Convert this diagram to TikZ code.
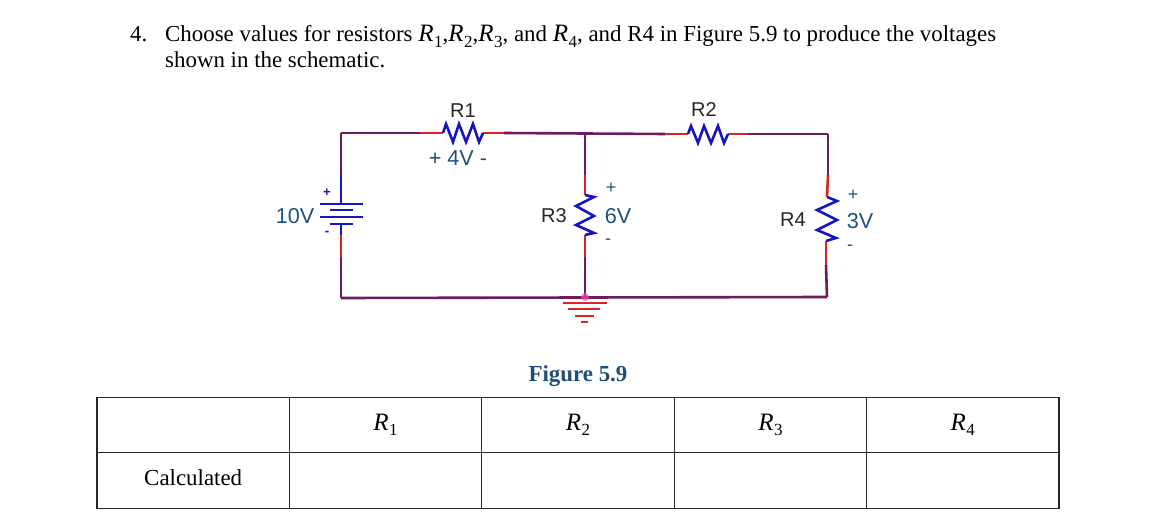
\documentclass[tikz,border=0pt]{standalone}
\usepackage{amsmath}
\usepackage[no-math]{fontspec}
\setmainfont{Liberation Serif}
\setsansfont{Liberation Sans}
\usetikzlibrary{positioning}
\definecolor{wirepurple}{HTML}{6B1C5C}
\definecolor{stubred}{HTML}{DC2326}
\definecolor{partblue}{HTML}{1515C4}
\definecolor{valueblue}{HTML}{1F5080}
\definecolor{captionblue}{HTML}{1F4E79}
\newcommand{\qbody}{\fontsize{22.9}{26}\selectfont}
\newcommand{\qsans}{\sffamily\fontsize{20}{22}\selectfont}
\newcommand{\qvalue}{\sffamily\fontsize{21.6}{24}\selectfont}
\newcommand{\qR}[1]{{\fontsize{25}{26}\selectfont\textit{R}}\kern.5pt\raisebox{-.22em}{\fontsize{17}{17}\selectfont #1}}

\begin{document}
\begin{tikzpicture}[x=1pt,y=-1pt,line join=miter]
  \tikzstyle{wire}=[draw=wirepurple,line width=2.6pt]
  \tikzstyle{stub}=[draw=stubred,line width=2.6pt]
  \tikzstyle{part}=[draw=partblue,line width=2.6pt]
  \tikzstyle{earth}=[draw=stubred,line width=2.6pt]
  \tikzstyle{qtext}=[inner sep=0pt,anchor=base west,font=\qbody]
  \tikzstyle{partname}=[inner sep=0pt,text=black!85,font=\qsans]
  \tikzstyle{partvalue}=[inner sep=0pt,text=valueblue,font=\qvalue]
  \tikzstyle{plusminus}=[inner sep=0pt,text=valueblue,font=\sffamily\fontsize{18}{20}\selectfont]
  \tikzstyle{polarity}=[inner sep=0pt,text=partblue,font=\sffamily\bfseries\fontsize{13}{14}\selectfont]
  \tikzstyle{cell}=[rectangle,draw=black!85,line width=1.2pt,inner sep=0pt,outer sep=0pt,
                    minimum width=192.4pt,minimum height=55.6pt,font=\qbody]

  \useasboundingbox (0,0) rectangle (1162,521);

  % Question text.
  \node [qtext] (qnum) at (130,42) {4.};
  \node [qtext] (qline1) at (165,42)
    {Choose values for resistors \qR{1},\qR{2},\qR{3}, and \qR{4}, and R4 in Figure 5.9 to produce the voltages};
  \node [qtext] (qline2) at (165,68) {shown in the schematic.};

  % Corners and junctions.
  \coordinate (tl) at (341,133);
  \coordinate (tr) at (828,134);
  \coordinate (bl) at (341,298);
  \coordinate (br) at (827,297);
  \coordinate (top3) at (585,133);
  \coordinate (gnd) at (585,297);

  % Top branch.
  \coordinate (r1a) at (443,133);
  \coordinate (r1b) at (483,133);
  \coordinate (r2a) at (688,134);
  \coordinate (r2b) at (728,134);
  \draw [wire] (tl) -- (420,133);
  \draw [stub] (420,133) -- (r1a);
  \draw [stub] (r1b) -- (504,133);
  \draw [wire] (504,133) -- (665,134);
  \draw [stub] (665,134) -- (r2a);
  \draw [stub] (r2b) -- (748,134);
  \draw [wire] (748,134) -- (tr);
  \draw [part] (r1a) -- ++(3,-9) -- ++(7,18) -- ++(6,-18) -- ++(7,18) -- ++(7,-18) -- ++(6,18) -- (r1b);
  \draw [part] (r2a) -- ++(3,-8) -- ++(7,17) -- ++(6,-17) -- ++(7,17) -- ++(7,-17) -- ++(6,17) -- (r2b);

  % Battery branch.
  \coordinate (batp) at (341,204);
  \coordinate (batm) at (341,224);
  \draw [wire] (tl) -- (341,175);
  \draw [part] (341,175) -- (batp);
  \draw [part] (batm) -- (341,235);
  \draw [stub] (341,235) -- (341,257);
  \draw [wire] (341,257) -- (bl);
  \draw [part] (320,204) -- (363,204);
  \draw [part] (330,210) -- (353,210);
  \draw [part] (320,217) -- (363,217);
  \draw [part] (330,224) -- (353,224);

  % R3 branch.
  \coordinate (r3a) at (585,195);
  \coordinate (r3b) at (585,235);
  \draw [wire] (top3) -- (585,175);
  \draw [stub] (585,175) -- (r3a);
  \draw [stub] (r3b) -- (585,257);
  \draw [wire] (585,257) -- (gnd);
  \draw [part] (r3a) -- ++(9,2) -- ++(-18,9) -- ++(18,10) -- ++(-18,9) -- ++(18,8) -- (r3b);

  % R4 branch.
  \coordinate (r4a) at (827,197);
  \coordinate (r4b) at (826,241);
  \draw [wire] (tr) -- (828,175);
  \draw [stub] (828,175) -- (r4a);
  \draw [stub] (r4b) -- (826,265);
  \draw [wire] (826,265) -- (br);
  \draw [part] (r4a) -- ++(10,4) -- ++(-20,9) -- ++(20,10) -- ++(-20,10) -- ++(19,8) -- (r4b);

  % Bottom wire and ground.
  \draw [wire] (bl) -- (br);
  \fill [magenta!70,opacity=.7] (gnd) circle (4);
  \draw [earth] (563,303) -- (607,303);
  \draw [earth] (568,309) -- (600,309);
  \draw [earth] (575,316) -- (594,316);
  \draw [earth] (581,322) -- (588,322);

  % Labels.
  \node [partname] (labr1) at (463,111) {R1};
  \node [partname] (labr2) at (704,110) {R2};
  \node [partname] (labr3) at (554,216) {R3};
  \node [partname] (labr4) at (793,220) {R4};
  \node [partvalue] (lab4v) at (458,158) {+ 4V -};
  \node [partvalue] (lab10v) at (295,216) {10V};
  \node [partvalue] (lab6v) at (618,216) {6V};
  \node [partvalue] (lab3v) at (860,221) {3V};
  \node [plusminus] (p6) at (611,188) {+};
  \node [plusminus] (m6) at (608,242) {-};
  \node [plusminus] (p3) at (853,195) {+};
  \node [plusminus] (m3) at (850,248) {-};
  \node [polarity] (batplus) at (327,193) {+};
  \node [polarity] (batminus) at (327,233) {-};

  \node [inner sep=0pt,text=captionblue,font=\qbody\bfseries] (caption) at (578,376) {Figure 5.9};

  % Table.
  \node [cell] (c00) at (193.2,425) {};
  \node [cell] (c01) [right=0pt of c00] {\qR{1}};
  \node [cell] (c02) [right=0pt of c01] {\qR{2}};
  \node [cell] (c03) [right=0pt of c02] {\qR{3}};
  \node [cell] (c04) [right=0pt of c03] {\qR{4}};
  \node [cell] (c10) [below=0pt of c00] {\raisebox{6pt}{Calculated}};
  \node [cell] (c11) [below=0pt of c01] {};
  \node [cell] (c12) [below=0pt of c02] {};
  \node [cell] (c13) [below=0pt of c03] {};
  \node [cell] (c14) [below=0pt of c04] {};
\end{tikzpicture}
\end{document}
